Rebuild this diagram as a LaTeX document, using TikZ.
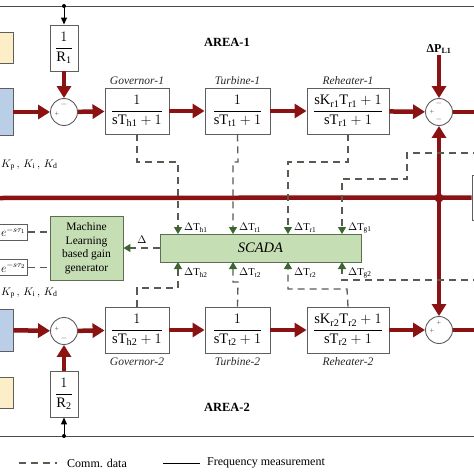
\documentclass[tikz,border=0pt]{standalone}
\usepackage{fontspec}
\setmainfont{Liberation Serif}
\usepackage{amsmath}
\usetikzlibrary{arrows.meta}
\definecolor{dred}{HTML}{8B1212}
\definecolor{boxgray}{HTML}{5E5E5E}
\definecolor{dashgray}{HTML}{5A5A52}
\definecolor{lgreen}{HTML}{C6DEB4}
\definecolor{gborder}{HTML}{5E6E55}
\definecolor{lblue}{HTML}{BACEE8}
\definecolor{lyellow}{HTML}{FCEFC8}
\definecolor{arrgreen}{HTML}{3C6630}
\begin{document}
\begin{tikzpicture}[x=1pt,y=-1pt,
  blk/.style={draw=boxgray,line width=0.9pt,fill=white,minimum height=46,inner sep=0pt,font=\fontsize{14.5}{16}\selectfont},
  sumc/.style={circle,draw=boxgray,line width=0.9pt,fill=white,minimum size=27,inner sep=0pt},
  sgn/.style={font=\fontsize{8}{8}\selectfont,text=boxgray,inner sep=0pt},
  rarr/.style={draw=dred,line width=4.5pt,-{Triangle[length=12pt,width=14pt,fill=dred]}},
  rline/.style={draw=dred,line width=4.5pt},
  meas/.style={draw=black!70,line width=1pt},
  marr/.style={draw=black,line width=1pt,-{Triangle[length=7pt,width=6pt]}},
  dsig/.style={draw=dashgray,line width=1.3pt,dash pattern=on 7pt off 5pt},
  darr/.style={dsig,-{Triangle[length=7pt,width=8pt,color=arrgreen,fill=arrgreen]}},
  lab/.style={font=\itshape\fontsize{11.5}{13}\selectfont,text=black!85},
  dtl/.style={font=\fontsize{10.5}{12}\selectfont,anchor=west,inner sep=0pt},
  gbox/.style={draw=gborder,line width=0.9pt,fill=lgreen},
  sidebox/.style={draw=boxgray,line width=0.9pt},
  area/.style={font=\bfseries\fontsize{12.5}{14}\selectfont}
]
\useasboundingbox (0,0) rectangle (474,474);
\clip (0,0) rectangle (474,474);

% measurement lines
\coordinate (topL) at (0,6);
\coordinate (topR) at (474,6);
\coordinate (botL) at (0,436);
\coordinate (botR) at (474,436);
\coordinate (tdot) at (64,6);
\coordinate (bdot) at (64,436);
\draw[meas] (topL) -- (topR);
\draw[meas] (botL) -- (botR);
\fill (tdot) circle (2);
\fill (bdot) circle (2);

% left partial boxes
\node[sidebox,fill=lyellow,minimum width=40,minimum height=31,inner sep=0pt] (yel1) at (-7,47.5) {};
\node[sidebox,fill=lblue,minimum width=40,minimum height=47,inner sep=0pt] (blue1) at (-7,112) {};
\node[sidebox,fill=lblue,minimum width=40,minimum height=42,inner sep=0pt] (blue2) at (-7,330) {};
\node[sidebox,fill=lyellow,minimum width=40,minimum height=31,inner sep=0pt] (yel2) at (-7,392.5) {};

% gains text
\node[font=\fontsize{11}{12}\selectfont,anchor=west,inner sep=0pt] (kpid1) at (1,165) {$K_{\mathrm{p}}\,,\,K_{\mathrm{i}}\,,\,K_{\mathrm{d}}$};
\node[font=\fontsize{11}{12}\selectfont,anchor=west,inner sep=0pt] (kpid2) at (1,293) {$K_{\mathrm{p}}\,,\,K_{\mathrm{i}}\,,\,K_{\mathrm{d}}$};

% area 1
\node[blk,minimum width=28] (r1) at (64,48) {$\displaystyle\frac{1}{\mathrm{R_1}}$};
\node[sumc] (s1a) at (64,112) {};
\node[sgn] at (57,114) {+};
\node[sgn] at (64,104) {$-$};
\node[blk,minimum width=64] (gov1) at (137,111) {$\displaystyle\frac{1}{\mathrm{sT_{h1}}+1}$};
\node[blk,minimum width=65] (tur1) at (237.5,111) {$\displaystyle\frac{1}{\mathrm{sT_{t1}}+1}$};
\node[blk,minimum width=82] (reh1) at (348,111) {$\displaystyle\frac{\mathrm{sK_{r1}T_{r1}}+1}{\mathrm{sT_{r1}}+1}$};
\node[lab] at (137,81) {Governor-1};
\node[lab] at (237.5,81) {Turbine-1};
\node[lab] at (348,81) {Reheater-1};
\node[area] at (227,42) {AREA-1};
\node[sumc] (s2a) at (439,112) {};
\node[sgn] at (432,112) {+};
\node[sgn] at (439,103) {$-$};
\node[sgn] at (439,119) {$-$};
\node[font=\bfseries\fontsize{12}{13}\selectfont,inner sep=1pt] (dpl) at (439,49) {ΔP\textsubscript{L1}};

% area 2
\node[blk,minimum width=28] (r2) at (64,394) {$\displaystyle\frac{1}{\mathrm{R_2}}$};
\node[sumc] (s1b) at (64,331) {};
\node[sgn] at (57,329) {+};
\node[sgn] at (64,338) {$-$};
\node[blk,minimum width=64] (gov2) at (137,330) {$\displaystyle\frac{1}{\mathrm{sT_{h2}}+1}$};
\node[blk,minimum width=65] (tur2) at (237.5,330) {$\displaystyle\frac{1}{\mathrm{sT_{t2}}+1}$};
\node[blk,minimum width=82] (reh2) at (348,330) {$\displaystyle\frac{\mathrm{sK_{r2}T_{r2}}+1}{\mathrm{sT_{r2}}+1}$};
\node[lab] at (137,362) {Governor-2};
\node[lab] at (237.5,362) {Turbine-2};
\node[lab] at (348,362) {Reheater-2};
\node[area] at (227,407) {AREA-2};
\node[sumc] (s3) at (439,330) {};
\node[sgn] at (432,331) {+};
\node[sgn] at (439,323) {+};

% right partial box
\node[sidebox,minimum width=48,minimum height=45,inner sep=0pt] (rbox) at (496,197.5) {};

% red paths
\draw[rarr] (blue1) -- (s1a);
\draw[rarr] (r1) -- (s1a);
\draw[rarr] (s1a) -- (gov1);
\draw[rarr] (gov1) -- (tur1);
\draw[rarr] (tur1) -- (reh1);
\draw[rarr] (reh1) -- (s2a);
\draw[rarr] (dpl) -- (s2a);
\coordinate (out1) at (480,112);
\draw[rline] (s2a) -- (out1);
\coordinate (busL) at (0,198);
\coordinate (tie) at (439,198);
\draw[rline] (busL) -- (rbox.west);
\draw[rarr] (tie) -- (s2a);
\draw[rarr] (tie) -- (s3);
\fill[dred] (tie) circle (4.5);
\draw[rarr] (blue2) -- (s1b);
\draw[rarr] (r2) -- (s1b);
\draw[rarr] (s1b) -- (gov2);
\draw[rarr] (gov2) -- (tur2);
\draw[rarr] (tur2) -- (reh2);
\draw[rarr] (reh2) -- (s3);
\coordinate (out3) at (480,330);
\draw[rline] (s3) -- (out3);

% measurement arrows
\draw[marr] (tdot) -- (r1);
\draw[marr] (bdot) -- (r2);

% ML, delay, SCADA
\node[gbox,minimum width=73,minimum height=64,align=center,inner sep=0pt,font=\fontsize{11.5}{13.5}\selectfont] (ml) at (86.5,248) {Machine\\Learning\\based gain\\generator};
\node[sidebox,fill=white,anchor=east,minimum height=16,inner sep=2pt,text width=40,align=right,font=\fontsize{11.5}{12}\selectfont] (e1) at (28,232) {$e^{-s\tau_1}$};
\node[sidebox,fill=white,anchor=east,minimum height=16,inner sep=2pt,text width=40,align=right,font=\fontsize{11.5}{12}\selectfont] (e2) at (28,267.5) {$e^{-s\tau_2}$};
\draw[dsig] (e1.east) -- (ml.west |- e1.east);
\draw[dsig] (e2.east) -- (ml.west |- e2.east);
\node[gbox,minimum width=201,minimum height=28,inner sep=0pt,font=\itshape\fontsize{14.5}{16}\selectfont] (scada) at (260.5,248) {SCADA};
\draw[darr] (scada.west) -- (ml.east);
\node[font=\fontsize{11}{12}\selectfont] at (142,240) {$\Delta$};

% signal taps on SCADA
\coordinate (h1) at (178,234);
\coordinate (t1) at (233,234);
\coordinate (rr1) at (288,234);
\coordinate (g1) at (342,234);
\coordinate (h2) at (178,262);
\coordinate (t2) at (233,262);
\coordinate (rr2) at (288,262);
\coordinate (g2) at (342,262);
\coordinate (g1src) at (480,153);
\coordinate (g2dst) at (480,280);

\draw[darr] (gov1.south) -- (137,162) -- (178,162) -- (h1);
\draw[darr] (tur1.south) -- (238,162) -- (233,162) -- (t1);
\draw[darr] (reh1.south) -- (348,162) -- (288,162) -- (rr1);
\draw[darr] (g1src) -- (407,153) -- (407,179) -- (342,179) -- (g1);
\draw[darr] (gov2.north) -- (137,288) -- (178,288) -- (h2);
\draw[darr] (tur2.north) -- (238,282) -- (233,282) -- (t2);
\draw[darr] (reh2.north) -- (347,289) -- (288,289) -- (rr2);
\draw[darr] (g2dst) -- (342,280) -- (g2);

\node[dtl] at (184,228) {$\Delta\mathrm{T_{h1}}$};
\node[dtl] at (239,228) {$\Delta\mathrm{T_{t1}}$};
\node[dtl] at (294,228) {$\Delta\mathrm{T_{r1}}$};
\node[dtl] at (348,228) {$\Delta\mathrm{T_{g1}}$};
\node[dtl] at (184,273) {$\Delta\mathrm{T_{h2}}$};
\node[dtl] at (239,273) {$\Delta\mathrm{T_{t2}}$};
\node[dtl] at (294,273) {$\Delta\mathrm{T_{r2}}$};
\node[dtl] at (348,273) {$\Delta\mathrm{T_{g2}}$};

% legend
\coordinate (lg1a) at (19,463);
\coordinate (lg1b) at (57,463);
\coordinate (lg2a) at (163,463);
\coordinate (lg2b) at (200,463);
\draw[dsig] (lg1a) -- (lg1b);
\draw[meas,draw=black] (lg2a) -- (lg2b);
\node[anchor=west,inner sep=0pt,font=\fontsize{12}{14}\selectfont] at (67,463) {Comm. data};
\node[anchor=west,inner sep=0pt,font=\fontsize{12}{14}\selectfont] at (207,463) {Frequency measurement};
\end{tikzpicture}
\end{document}
